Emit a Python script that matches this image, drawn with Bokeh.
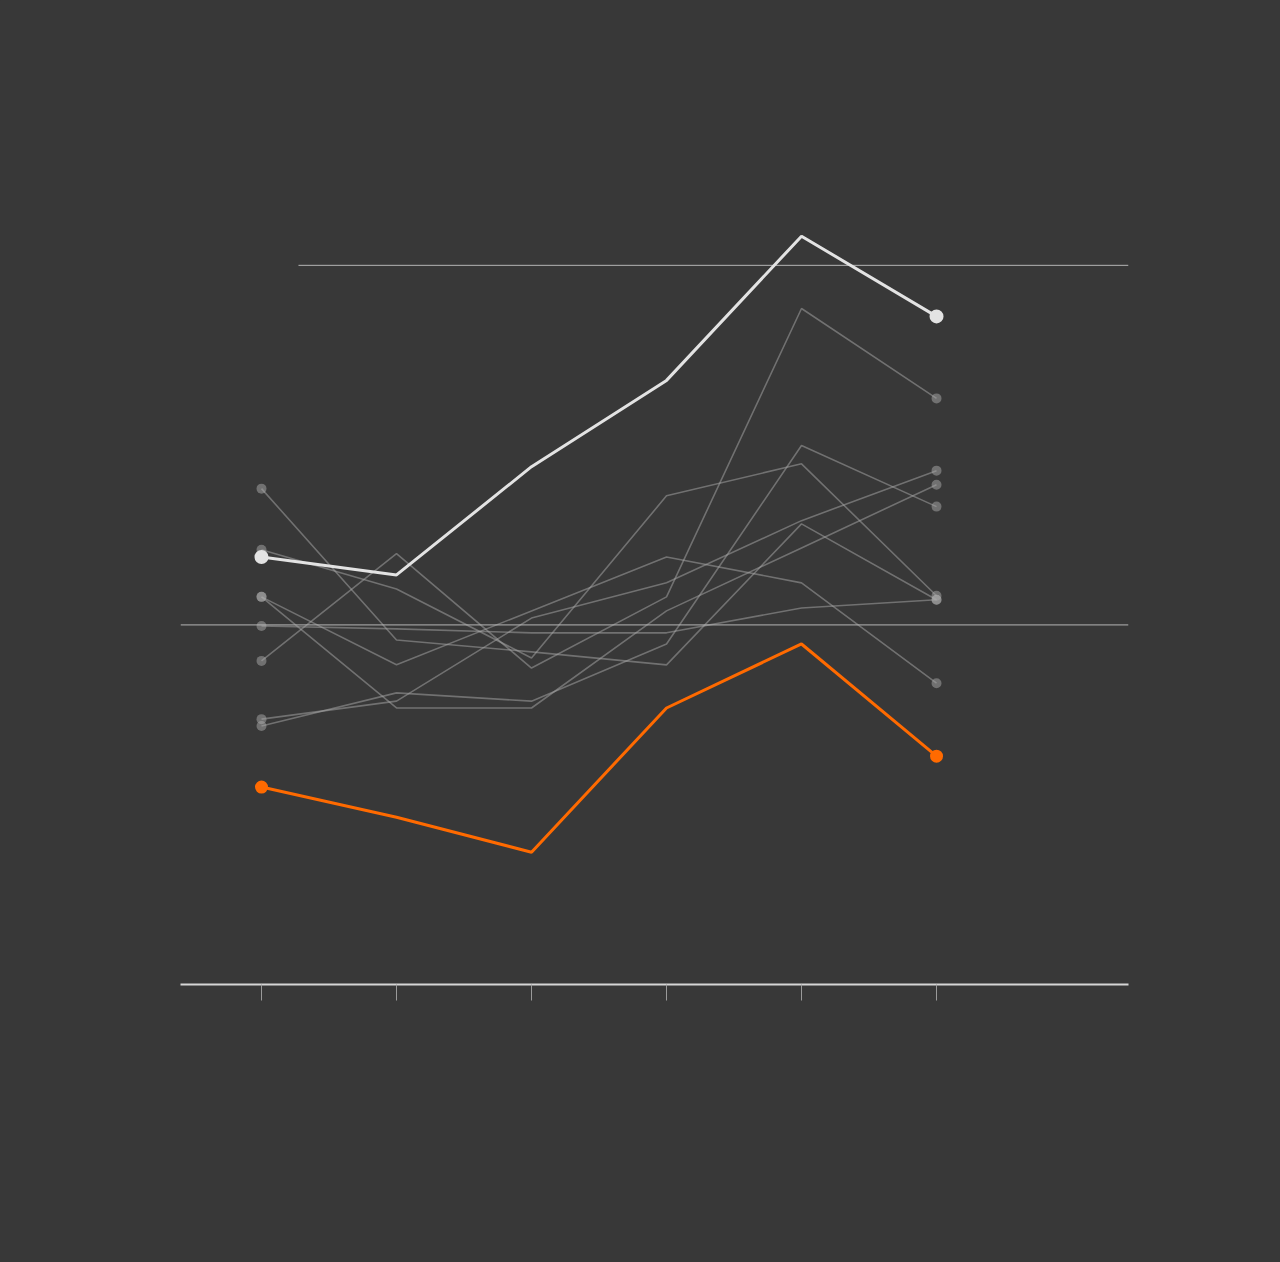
from bokeh.plotting import figure
from bokeh.models import FixedTicker, Span
from bokeh.embed import file_html
from bokeh.resources import INLINE

# x positions (six periods)
periods = [0, 1, 2, 3, 4, 5]

# highlighted series
series_white = [1.89, 1.39, 4.40, 6.80, 10.81, 8.58]
series_orange = [-4.51, -5.35, -6.32, -2.31, -0.53, -3.65]

# background (grey) series
series_a = [2.09, 1.00, -0.92, 3.59, 4.48, 0.81]
series_b = [0.78, -1.11, 0.39, 1.89, 1.17, -1.62]
series_c = [-2.62, -2.12, 0.19, 1.17, 2.90, 4.29]
series_d = [-1.00, 1.98, -1.20, 0.78, 8.80, 6.30]
series_e = [0.78, -2.31, -2.31, 0.39, 2.14, 3.90]
series_f = [-0.03, -0.11, -0.22, -0.22, 0.47, 0.70]
series_g = [-2.81, -1.89, -2.12, -0.53, 4.99, 3.29]
series_h = [3.79, -0.42, -0.75, -1.11, 2.81, 0.70]

grey_series = [series_a, series_b, series_c, series_d,
               series_e, series_f, series_g, series_h]

BG = "#383838"

p = figure(width=1272, height=1254, output_backend="svg", toolbar_location=None,
           x_range=(-0.6, 6.422), y_range=(-10, 14),
           min_border_left=180, min_border_right=144,
           min_border_top=121, min_border_bottom=270)
p.background_fill_color = BG
p.border_fill_color = BG
p.outline_line_color = None
p.grid.visible = False
p.yaxis.visible = False

ax = p.xaxis[0]
ax.ticker = FixedTicker(ticks=periods)
ax.major_label_overrides = {i: "" for i in periods}
ax.axis_line_color = "#d6d6d6"
ax.axis_line_width = 2
ax.major_tick_line_color = "#9a9a9a"
ax.major_tick_line_width = 1
ax.major_tick_in = 0
ax.major_tick_out = 16
ax.minor_tick_line_color = None

# reference lines
p.add_layout(Span(location=0, dimension="width", line_color="#b5b5b5", line_width=1))
p.segment(x0=[0.274], y0=[10], x1=[6.422], y1=[10], line_color="#b5b5b5", line_width=1)

for s in grey_series:
    p.line(periods, s, line_color="#aaaaaa", line_alpha=0.5, line_width=1.6)
    p.scatter([periods[0], periods[-1]], [s[0], s[-1]], size=10,
              fill_color="#aaaaaa", fill_alpha=0.5, line_color=None)

p.line(periods, series_white, line_color="#e3e3e3", line_width=3)
p.scatter([periods[0], periods[-1]], [series_white[0], series_white[-1]], size=14,
          fill_color="#e3e3e3", line_color=None)

p.line(periods, series_orange, line_color="#ff6a00", line_width=3)
p.scatter([periods[0], periods[-1]], [series_orange[0], series_orange[-1]], size=13,
          fill_color="#ff6a00", line_color=None)

html = file_html(p, INLINE)
html = html.replace("<head>", "<head><style>body{background:%s;}</style>" % BG, 1)
open("out.html", "w").write(html)
